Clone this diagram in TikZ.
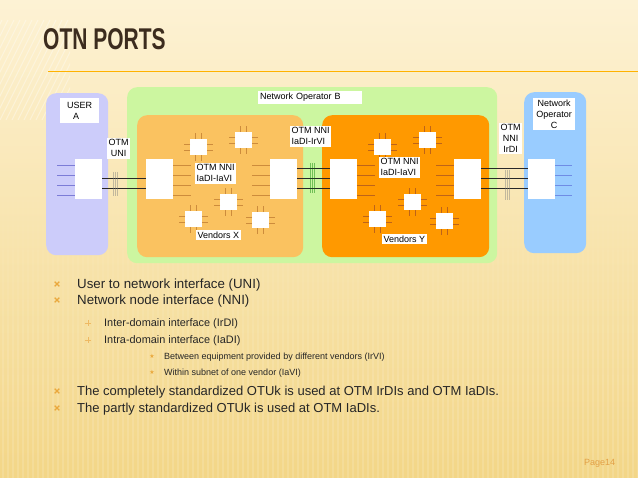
\documentclass[tikz,border=0pt]{standalone}
\usepackage{graphicx}
\usepackage{fontspec}
\setmainfont{Liberation Sans}
\newfontfamily\dejavu{DejaVu Sans}
\usetikzlibrary{calc}
\definecolor{bgtop}{RGB}{253,242,212}
\definecolor{bgmid}{RGB}{250,231,182}
\definecolor{bgbot}{RGB}{243,214,135}
\definecolor{lav}{RGB}{204,204,250}
\definecolor{grn}{RGB}{204,246,160}
\definecolor{orl}{RGB}{250,194,96}
\definecolor{ord}{RGB}{255,153,0}
\definecolor{blu}{RGB}{153,204,255}
\definecolor{titlec}{RGB}{60,44,30}
\definecolor{bulc}{RGB}{234,168,60}
\definecolor{linec}{RGB}{40,40,40}
\definecolor{pagec}{RGB}{226,160,70}
\definecolor{pinx}{RGB}{205,140,60}
\definecolor{piny}{RGB}{190,100,25}
\tikzset{
  region/.style={fill=#1, rounded corners=10pt, anchor=north west, inner sep=0pt},
  nebox/.style={fill=white, anchor=north west, minimum width=27pt, minimum height=40pt, inner sep=0pt},
  chipbox/.style={fill=white, anchor=north west, minimum width=17pt, minimum height=16pt, inner sep=0pt},
  lbl/.style={fill=white, inner sep=1.5pt, font=\fontsize{9}{11}\selectfont, text=black, anchor=north west},
  conn/.style={draw=linec, line width=0.8pt},
  stub/.style={draw=#1, line width=0.5pt},
  pin/.style={draw=#1, line width=0.5pt},
  tick/.style={draw=#1, line width=0.5pt, opacity=0.45},
  body/.style={anchor=base west, inner sep=0pt, text=black!85},
}
\newcommand\chip[4]{%
  \node[chipbox] (#1) at (#2,#3) {};
  \foreach \p in {0.33,0.67} {
    \draw[pin=#4] ($(#1.north west)!\p!(#1.north east)$) -- ++(0,-6);
    \draw[pin=#4] ($(#1.south west)!\p!(#1.south east)$) -- ++(0,6);
    \draw[pin=#4] ($(#1.north west)!\p!(#1.south west)$) -- ++(-6,0);
    \draw[pin=#4] ($(#1.north east)!\p!(#1.south east)$) -- ++(6,0);
  }
}
\newcommand\xbul[2]{\draw[bulc, line width=1.3pt] (#1-2.3,#2-2.3) -- (#1+2.3,#2+2.3) (#1-2.3,#2+2.3) -- (#1+2.3,#2-2.3);}
\newcommand\pbul[2]{\draw[bulc!80, line width=0.8pt] (#1-3,#2) -- (#1+3,#2) (#1,#2-3) -- (#1,#2+3);}
\begin{document}
\begin{tikzpicture}[x=1pt,y=-1pt]
\useasboundingbox (0,0) rectangle (638,478);
\shade[top color=bgtop, middle color=bgmid, bottom color=bgbot] (0,0) rectangle (638,478);
% faint stripes
\begin{scope}
\clip (0,20) rectangle (70,120);
\foreach \i in {-60,-54,...,80} \draw[white, opacity=0.35, line width=1pt] (\i,120) -- (\i+50,20);
\end{scope}
\foreach \k in {1,...,8} {
  \pgfmathsetmacro\op{0.016*\k}
  \foreach \i in {3,8,...,638} \draw[white, opacity=\op, line width=1.5pt] (\i,200+\k*25-25) -- (\i,200+\k*25);
}
\foreach \i in {3,8,...,638} \draw[white, opacity=0.13, line width=1.5pt] (\i,400) -- (\i,478);
% title
\node[anchor=north west, inner sep=0pt, font=\fontsize{30}{30}\selectfont\bfseries, text=titlec] (title) at (43,28) {\scalebox{0.7}[1]{OTN PORTS}};
\draw[orange!60!yellow, line width=1pt] (48,72) -- (638,72);
% regions
\node[region=lav, minimum width=62pt, minimum height=162pt] (usera) at (46,93) {};
\node[region=grn, minimum width=370pt, minimum height=176pt] (opb) at (127,87) {};
\node[region=orl, minimum width=166pt, minimum height=142pt] (vx) at (137,115) {};
\node[region=ord, minimum width=167pt, minimum height=142pt] (vy) at (322,115) {};
\node[region=blu, minimum width=62pt, minimum height=161pt] (opc) at (524,92) {};
% stubs
\foreach \y in {165,175,185,195} {
  \draw[stub=lav!60!blue!70!gray] (57,\y) -- (75,\y);
  \draw[stub=pinx] (173,\y) -- (191,\y);
  \draw[stub=pinx] (252,\y) -- (270,\y);
  \draw[stub=piny] (357,\y) -- (375,\y);
  \draw[stub=piny] (436,\y) -- (454,\y);
  \draw[stub=blu!70!blue!80!gray] (554,\y) -- (572,\y);
}
% network elements
\node[nebox] (ua) at (75,159) {};
\node[nebox] (xl) at (146,159) {};
\node[nebox] (xr) at (270,159) {};
\node[nebox] (yl) at (330,159) {};
\node[nebox] (yr) at (454,159) {};
\node[nebox] (nc) at (528,159) {};
% chips
\chip{c1}{190}{139}{pinx}
\chip{c2}{235}{132}{pinx}
\chip{c3}{220}{194}{pinx}
\chip{c4}{185}{211}{pinx}
\chip{c5}{252}{212}{pinx}
\chip{d1}{374}{139}{piny}
\chip{d2}{419}{132}{piny}
\chip{d3}{404}{194}{piny}
\chip{d4}{369}{211}{piny}
\chip{d5}{436}{213}{piny}
% connectors
\foreach \y in {178,188} \draw[conn] (ua.east |- 0,\y) -- (xl.west |- 0,\y);
\foreach \y in {168,178,188} \draw[conn] (xr.east |- 0,\y) -- (yl.west |- 0,\y);
\foreach \y in {168,178,188} \draw[conn] (yr.east |- 0,\y) -- (nc.west |- 0,\y);
% ticks on links
\foreach \x in {113,115,117} \draw[tick=gray] (\x,172) -- (\x,196);
\foreach \x in {310,312,314} \draw[tick=green!50!black] (\x,163) -- (\x,193);
\foreach \x in {505,507,509} \draw[tick=gray] (\x,170) -- (\x,200);
% labels
\node[lbl, minimum width=39pt, minimum height=25pt, align=left] (lua) at (60,98) {USER\\\hspace*{6pt}A};
\node[lbl, text width=100pt, align=left, inner sep=2pt, minimum height=12pt] (lopb) at (258,91) {Network Operator B};
\node[lbl, align=center] (luni) at (107,138) {OTM\\UNI};
\node[lbl, align=left] (lxy) at (290,126) {OTM NNI\\IaDI-IrVI};
\node[lbl, align=center] (lirdi) at (499,123) {OTM\\NNI\\IrDI};
\node[lbl, align=center, minimum width=42pt] (lopc) at (533,98) {Network\\Operator\\C};
\node[lbl, align=left] (lx) at (195,163) {OTM NNI\\IaDI-IaVI};
\node[lbl, align=left] (ly) at (379,157) {OTM NNI\\IaDI-IaVI};
\node[lbl] (lvx) at (196,230) {Vendors X};
\node[lbl] (lvy) at (382,234) {Vendors Y};
% bullets and text
\xbul{57}{284}
\xbul{57}{300}
\pbul{88}{323}
\pbul{88}{340}
\node[text=bulc, font=\dejavu\fontsize{6}{6}\selectfont, inner sep=0pt] (s1) at (152,356) {★};
\node[text=bulc, font=\dejavu\fontsize{6}{6}\selectfont, inner sep=0pt] (s2) at (152,372) {★};
\xbul{57}{391}
\xbul{57}{408}
\node[body, font=\fontsize{13.3}{15}\selectfont] (t1) at (77,288.5) {User to network interface (UNI)};
\node[body, font=\fontsize{13.3}{15}\selectfont] (t2) at (77,305) {Network node interface (NNI)};
\node[body, font=\fontsize{10.9}{13}\selectfont] (t3) at (104,326.7) {Inter-domain interface (IrDI)};
\node[body, font=\fontsize{10.9}{13}\selectfont] (t4) at (104,344) {Intra-domain interface (IaDI)};
\node[body, font=\fontsize{9}{11}\selectfont] (t5) at (164,359.5) {Between equipment provided by different vendors (IrVI)};
\node[body, font=\fontsize{9}{11}\selectfont] (t6) at (164,375.5) {Within subnet of one vendor (IaVI)};
\node[body, font=\fontsize{13}{15}\selectfont] (t7) at (77,396) {The completely standardized OTUk is used at OTM IrDIs and OTM IaDIs.};
\node[body, font=\fontsize{13}{15}\selectfont] (t8) at (77,412.7) {The partly standardized OTUk is used at OTM IaDIs.};
\node[anchor=base west, inner sep=0pt, text=pagec, font=\fontsize{9}{9}\selectfont] (pg) at (584,465.5) {Page14};
\end{tikzpicture}
\end{document}
